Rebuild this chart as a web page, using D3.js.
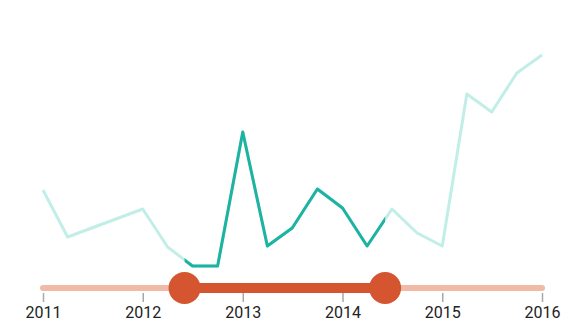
<!DOCTYPE html>
<html>
<head>
<meta charset="utf-8">
<script src="https://cdn.jsdelivr.net/npm/d3@7"></script>
<style>
    html, body { margin: 0; padding: 0; background: #fff; }
    svg { display: block; }
</style>
</head>
<body>
<div id="chart"></div>
<script>
// quarterly readings
const dates = [
    '2011-01-01', '2011-04-01', '2012-01-01', '2012-04-01', '2012-07-01', '2012-10-01',
    '2013-01-01', '2013-04-01', '2013-07-01', '2013-10-01', '2014-01-01', '2014-04-01',
    '2014-07-01', '2014-10-01', '2015-01-01', '2015-04-01', '2015-07-01', '2015-10-01',
    '2016-01-01',
];
const values = [76, 29, 57, 19, 0, 0, 134, 20, 38, 77, 58, 20, 57, 33, 20, 172, 154, 193, 211];
const tick_years = ['2011', '2012', '2013', '2014', '2015', '2016'];
const brush_range = ['2012-06-02', '2014-06-06'];

const width = 585;
const height = 329;
const margin = { left: 43, right: 43 };
const line_top = 55;
const line_bottom = 266;
const track_y = 288;

const parse = d3.timeParse('%Y-%m-%d');
const data = dates.map((d, i) => ({ date: parse(d), value: values[i] }));

const svg = d3.select('#chart')
    .append('svg')
    .attr('width', width)
    .attr('height', height);

const x = d3.scaleTime()
    .domain([parse('2011-01-01'), parse('2016-01-01')])
    .range([margin.left, width - margin.right]);

const y = d3.scaleLinear()
    .domain(d3.extent(values))
    .range([line_bottom, line_top]);

const line = d3.line()
    .x(d => x(d.date))
    .y(d => y(d.value));

const sel = brush_range.map(d => x(parse(d)));

svg.append('defs')
    .append('clipPath')
    .attr('id', 'sel-clip')
    .append('rect')
    .attr('x', sel[0])
    .attr('y', 0)
    .attr('width', sel[1] - sel[0])
    .attr('height', height);

// faded full series
svg.append('path')
    .datum(data)
    .attr('d', line)
    .attr('fill', 'none')
    .attr('stroke', '#c2eee8')
    .attr('stroke-width', 3)
    .attr('stroke-linejoin', 'round');

// highlighted part inside the brush
svg.append('path')
    .datum(data)
    .attr('d', line)
    .attr('clip-path', 'url(#sel-clip)')
    .attr('fill', 'none')
    .attr('stroke', '#1db3a2')
    .attr('stroke-width', 3)
    .attr('stroke-linejoin', 'round');

// axis
const axis = svg.append('g')
    .attr('transform', `translate(0, ${track_y + 5})`)
    .call(d3.axisBottom(x)
        .tickValues(tick_years.map(t => parse(`${t}-01-01`)))
        .tickFormat(d3.timeFormat('%Y'))
        .tickSize(9)
        .tickPadding(5));

axis.select('.domain').remove();
axis.selectAll('.tick line').attr('stroke', '#a8a8a8').attr('stroke-width', 1.5);
axis.selectAll('.tick text')
    .attr('fill', '#222')
    .style('font-family', 'Roboto, sans-serif')
    .style('font-size', '16px');

// slider track
svg.append('line')
    .attr('x1', x.range()[0])
    .attr('x2', x.range()[1])
    .attr('y1', track_y)
    .attr('y2', track_y)
    .attr('stroke', '#f0baa6')
    .attr('stroke-width', 6)
    .attr('stroke-linecap', 'round');

svg.append('line')
    .attr('x1', sel[0])
    .attr('x2', sel[1])
    .attr('y1', track_y)
    .attr('y2', track_y)
    .attr('stroke', '#d4552f')
    .attr('stroke-width', 10);

svg.selectAll('.handle')
    .data(sel)
    .enter()
    .append('circle')
    .attr('class', 'handle')
    .attr('cx', d => d)
    .attr('cy', track_y)
    .attr('r', 16)
    .attr('fill', '#d4552f');
</script>
</body>
</html>
